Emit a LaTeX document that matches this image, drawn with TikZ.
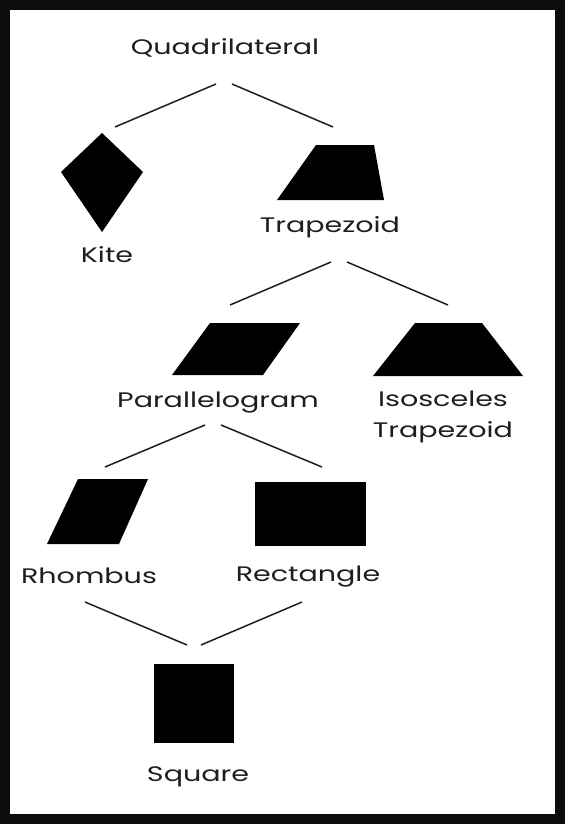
\documentclass[tikz,border=0pt]{standalone}
\usepackage{fontspec}
\setmainfont{Poppins}[FakeStretch=1.36]
\definecolor{frame}{HTML}{0C0C0C}
\definecolor{ink}{HTML}{1E1E1E}
\tikzset{
  lbl/.style={text=ink, font=\fontsize{21}{31}\selectfont, align=center, inner sep=0pt, anchor=base},
  link/.style={draw=ink, line width=1.5pt},
  figfill/.style={fill=black}
}
\begin{document}
\begin{tikzpicture}[x=1pt, y=-1pt]
  \fill[frame] (0,0) rectangle (565,824);
  \fill[white] (10,10) rectangle (555,814);
  % labels
  \node[lbl] (quad)  at (225,55)  {Quadrilateral};
  \node[lbl] (kite)  at (107,262) {Kite};
  \node[lbl] (trap)  at (330,232) {Trapezoid};
  \node[lbl] (para)  at (218,407) {Parallelogram};
  \node[lbl] (iso)   at (443,437) {Isosceles\\Trapezoid};
  \node[lbl] (rhomb) at (89,583)  {Rhombus};
  \node[lbl] (rect)  at (308,581) {Rectangle};
  \node[lbl] (sq)    at (198,781) {Square};
  % shapes
  \fill[figfill] (102,133) -- (143,172) -- (102,232) -- (61,172) -- cycle;
  \fill[figfill] (316,145) -- (374,145) -- (384,200) -- (277,200) -- cycle;
  \fill[figfill] (210,323) -- (300,323) -- (263,375) -- (172,375) -- cycle;
  \fill[figfill] (415,323) -- (482,323) -- (523,376) -- (373,376) -- cycle;
  \fill[figfill] (78,479) -- (148,479) -- (119,544) -- (47,544) -- cycle;
  \fill[figfill] (255,482) rectangle (366,546);
  \fill[figfill] (154,664) rectangle (234,743);
  % connectors
  \coordinate (quad-l) at (216,84);  \coordinate (kite-t) at (115,127);
  \coordinate (quad-r) at (232,84);  \coordinate (trap-t) at (333,127);
  \coordinate (trap-l) at (331,262); \coordinate (para-t) at (230,305);
  \coordinate (trap-r) at (347,262); \coordinate (iso-t)  at (448,305);
  \coordinate (para-l) at (205,425); \coordinate (rhomb-t) at (105,467);
  \coordinate (para-r) at (221,425); \coordinate (rect-t) at (322,467);
  \coordinate (rhomb-b) at (85,602); \coordinate (sq-l) at (187,645);
  \coordinate (rect-b) at (302,602); \coordinate (sq-r) at (201,645);
  \foreach \a/\b in {quad-l/kite-t, quad-r/trap-t, trap-l/para-t, trap-r/iso-t,
                     para-l/rhomb-t, para-r/rect-t, rhomb-b/sq-l, rect-b/sq-r}
    \draw[link] (\a) -- (\b);
\end{tikzpicture}
\end{document}
